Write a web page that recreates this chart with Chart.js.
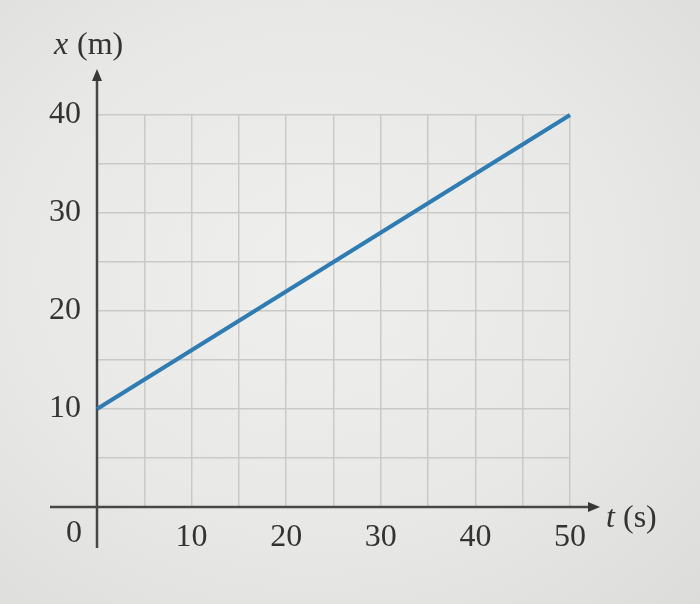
<!DOCTYPE html>
<html>
<head>
<meta charset="utf-8">
<script src="https://cdn.jsdelivr.net/npm/chart.js@4"></script>
<style>
    html, body { margin: 0; padding: 0; }
    body {
        width: 700px; height: 604px; overflow: hidden;
        background: radial-gradient(ellipse at 45% 45%, #efefee 0%, #e8e8e7 55%, #dcdcdb 100%);
    }
    canvas { display: block; }
</style>
</head>
<body>
<canvas id="motionChart" width="700" height="604"></canvas>
<script>
// position-time graph data
const timeValues = [0, 50];        // t (s)
const positionValues = [10, 40];   // x (m)
const timeTickLabels = [10, 20, 30, 40, 50];
const positionTickLabels = [10, 20, 30, 40];

const INK = '#333333';
const SERIF = '"Liberation Serif", "DejaVu Serif", serif';
const FONT_SIZE = 32;

// axes with arrows, the origin "0" and the axis titles
const axesPlugin = {
    id: 'axesPlugin',
    beforeDatasetsDraw(chart) {
        const ctx = chart.ctx;
        const xs = chart.scales.x;
        const ys = chart.scales.y;
        const x0 = xs.getPixelForValue(0);
        const y0 = ys.getPixelForValue(0);
        const xEnd = xs.getPixelForValue(50);
        const yTop = ys.getPixelForValue(40);

        ctx.save();
        ctx.strokeStyle = '#474747';
        ctx.fillStyle = '#383838';
        ctx.lineWidth = 2.5;

        // x axis
        ctx.beginPath();
        ctx.moveTo(x0 - 47, y0);
        ctx.lineTo(xEnd + 20, y0);
        ctx.stroke();
        ctx.beginPath();
        ctx.moveTo(xEnd + 30, y0);
        ctx.lineTo(xEnd + 18, y0 - 5);
        ctx.lineTo(xEnd + 18, y0 + 5);
        ctx.closePath();
        ctx.fill();

        // y axis
        ctx.beginPath();
        ctx.moveTo(x0, y0 + 41);
        ctx.lineTo(x0, yTop - 35);
        ctx.stroke();
        ctx.beginPath();
        ctx.moveTo(x0, yTop - 46);
        ctx.lineTo(x0 - 5, yTop - 34);
        ctx.lineTo(x0 + 5, yTop - 34);
        ctx.closePath();
        ctx.fill();

        // labels
        ctx.fillStyle = INK;
        ctx.textBaseline = 'middle';
        ctx.font = FONT_SIZE + 'px ' + SERIF;
        ctx.textAlign = 'center';
        ctx.fillText('0', x0 - 23, y0 + 27);

        ctx.textAlign = 'left';
        ctx.font = 'italic ' + FONT_SIZE + 'px ' + SERIF;
        ctx.fillText('x', x0 - 43, yTop - 69);
        ctx.font = FONT_SIZE + 'px ' + SERIF;
        ctx.fillText('(m)', x0 - 20, yTop - 69);

        ctx.font = 'italic ' + FONT_SIZE + 'px ' + SERIF;
        ctx.fillText('t', xEnd + 36, y0 + 12);
        ctx.font = FONT_SIZE + 'px ' + SERIF;
        ctx.fillText('(s)', xEnd + 53, y0 + 12);
        ctx.restore();
    }
};

const ctx = document.getElementById('motionChart').getContext('2d');

new Chart(ctx, {
    type: 'line',
    data: {
        datasets: [{
            data: timeValues.map((t, i) => ({ x: t, y: positionValues[i] })),
            borderColor: '#2f7cb2',
            borderWidth: 4,
            pointRadius: 0,
            fill: false,
            clip: false
        }]
    },
    options: {
        responsive: false,
        animation: false,
        layout: {
            padding: { left: 0, right: 130, top: 115, bottom: 0 }
        },
        plugins: {
            legend: { display: false },
            tooltip: { enabled: false }
        },
        scales: {
            x: {
                type: 'linear',
                min: 0,
                max: 50,
                afterFit: function(scale) { scale.height = 97; },
                border: { display: false },
                grid: { color: '#c9c9c8', lineWidth: 1.5, drawTicks: false },
                ticks: {
                    stepSize: 5,
                    padding: 11,
                    color: INK,
                    font: { family: SERIF, size: FONT_SIZE },
                    maxRotation: 0,
                    autoSkip: false,
                    callback: function(value) {
                        return timeTickLabels.includes(value) ? String(value) : '';
                    }
                }
            },
            y: {
                type: 'linear',
                min: 0,
                max: 40,
                afterFit: function(scale) { scale.width = 97; },
                border: { display: false },
                grid: { color: '#c9c9c8', lineWidth: 1.5, drawTicks: false },
                ticks: {
                    stepSize: 5,
                    padding: 16,
                    color: INK,
                    font: { family: SERIF, size: FONT_SIZE },
                    autoSkip: false,
                    callback: function(value) {
                        return positionTickLabels.includes(value) ? String(value) : '';
                    }
                }
            }
        }
    },
    plugins: [axesPlugin]
});
</script>
</body>
</html>
